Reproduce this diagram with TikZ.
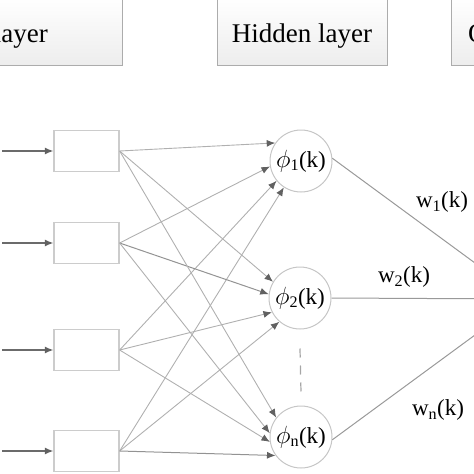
\documentclass[tikz,border=0pt]{standalone}
\usepackage{fontspec}
\setmainfont{Liberation Serif}
\usetikzlibrary{arrows.meta, positioning, calc}

\begin{document}
\begin{tikzpicture}[
		x=1pt, y=-1pt,
		header/.style={rectangle, draw=gray!65, line width=1pt, top color=white, bottom color=gray!14,
			minimum height=68pt, inner sep=0pt, text height=24pt, text depth=2pt,
			font=\fontsize{27}{32}\selectfont},
		inbox/.style={rectangle, draw=gray!40, line width=1.3pt, minimum width=65pt, minimum height=41pt, inner sep=0pt},
		neuron/.style={circle, draw=gray!45, line width=1pt, minimum size=62pt, inner sep=0pt,
			font=\fontsize{23}{27}\selectfont},
		>={Latex[length=8.5pt, width=7pt, color=black!62]},
		feed/.style={draw=black!58, line width=1.2pt, ->},
		wire/.style={draw=gray!62, line width=0.9pt, ->},
		strong/.style={draw=gray!85, line width=1pt, ->},
		outwire/.style={draw=gray!80, line width=1pt},
		weight/.style={font=\fontsize{23}{27}\selectfont}
		]
		\useasboundingbox (0,0) rectangle (474,474);
		
		% --- Layer Headers ---
		\node[header, minimum width=266pt] (input_head) at (-11,31) {Input layer};
		\node[header, minimum width=170pt] (hidden_head) at (302,31) {Hidden layer};
		\node[header, minimum width=170pt] (output_head) at (536,31) {Output layer};
		
		% --- Input Boxes ---
		\node[inbox] (inp1) at (86.5,151) {};
		\node[inbox] (inp2) at (86.5,243) {};
		\node[inbox] (inp3) at (86.5,350) {};
		\node[inbox] (inp4) at (86.5,451) {};
		
		% --- Incoming Signals ---
		\coordinate (src1) at (2,151);
		\coordinate (src2) at (2,243);
		\coordinate (src3) at (2,350);
		\coordinate (src4) at (2,451);
		\draw[feed] (src1) -- (inp1);
		\draw[feed] (src2) -- (inp2);
		\draw[feed] (src3) -- (inp3);
		\draw[feed] (src4) -- (inp4);
		
		% --- Hidden Neurons ---
		\node[neuron] (h1) at (301,161) {$\phi$\textsubscript{1}(k)};
		\node[neuron] (h2) at (300,298) {$\phi$\textsubscript{2}(k)};
		\node[neuron] (hn) at (301,437) {$\phi$\textsubscript{n}(k)};
		\draw[draw=gray!70, line width=1.2pt, dash pattern=on 9pt off 8pt]
			($(h2.south)+(0,19)$) -- ($(hn.north)+(0,-13)$);
		
		% --- Input to Hidden Connections ---
		% each box feeds every neuron, arrows land at different points of the circle
		\draw[wire] (inp1.east) -- (h1.145);
		\draw[wire] (inp2.east) -- (h1.190);
		\draw[wire] (inp3.east) -- (h1.219);
		\draw[wire] (inp4.east) -- (h1.237);
		
		\draw[wire] (inp1.east) -- (h2.149);
		\draw[strong] (inp2.east) -- (h2.173);
		\draw[wire] (inp3.east) -- (h2.207);
		\draw[wire] (inp4.east) -- (h2.229);
		
		\draw[wire] (inp1.east) -- (hn.142);
		\draw[wire] (inp2.east) -- (hn.173);
		\draw[wire] (inp3.east) -- (hn.189);
		\draw[strong] (inp4.east) -- (hn.216);
		
		% --- Hidden to Output Connections ---
		\coordinate (out) at (524,299);
		\draw[outwire] (h1.5) -- (out);
		\draw[outwire] (h2.0) -- (out);
		\draw[outwire] (hn.-5) -- (out);
		
		\node[weight] (w1_label) at (442,202) {w\textsubscript{1}(k)};
		\node[weight] (w2_label) at (404,277) {w\textsubscript{2}(k)};
		\node[weight] (wn_label) at (438,410) {w\textsubscript{n}(k)};
		
	\end{tikzpicture}
\end{document}
